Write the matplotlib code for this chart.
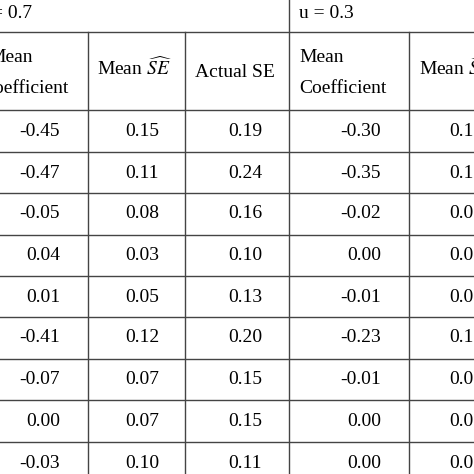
import matplotlib.pyplot as plt

plt.rcParams['font.family'] = ['Liberation Serif', 'DejaVu Serif']
plt.rcParams['mathtext.fontset'] = 'stix'

coef_07 = ["-0.45", "-0.47", "-0.05", "0.04", "0.01", "-0.41", "-0.07", "0.00", "-0.03"]
se_hat_07 = ["0.15", "0.11", "0.08", "0.03", "0.05", "0.12", "0.07", "0.07", "0.10"]
se_act_07 = ["0.19", "0.24", "0.16", "0.10", "0.13", "0.20", "0.15", "0.15", "0.11"]
coef_03 = ["-0.30", "-0.35", "-0.02", "0.00", "-0.01", "-0.23", "-0.01", "0.00", "0.00"]
se_hat_03 = ["0.13", "0.15", "0.02", "0.00", "0.01", "0.12", "0.01", "0.01", "0.00"]

W = 474
fig = plt.figure(figsize=(4.74, 4.74), dpi=100)
ax = fig.add_axes([0, 0, 1, 1])
ax.set_xlim(0, W)
ax.set_ylim(W, 0)
ax.axis("off")

lc = "#444444"
lw = 1.0
row_lines = [32, 110, 152, 193, 235, 276, 317, 359, 400, 442]
for y in row_lines:
    ax.plot([0, W], [y, y], color=lc, lw=lw)
ax.plot([289, 289], [0, W], color=lc, lw=lw)
for x in [88, 185, 409]:
    ax.plot([x, x], [32, W], color=lc, lw=lw)

fs = 14
ax.text(-8, 13, "= 0.7", fontsize=fs, va="center", ha="left")
ax.text(299, 13, "u = 0.3", fontsize=fs, va="center", ha="left")
ax.text(-12, 57, "Mean", fontsize=fs, va="center", ha="left")
ax.text(-19, 88, "Coefficient", fontsize=fs, va="center", ha="left")
ax.text(97, 68, r"Mean $\widehat{SE}$", fontsize=fs, va="center", ha="left")
ax.text(195, 72, "Actual SE", fontsize=fs, va="center", ha="left")
ax.text(299, 57, "Mean", fontsize=fs, va="center", ha="left")
ax.text(299, 88, "Coefficient", fontsize=fs, va="center", ha="left")
ax.text(419, 68, r"Mean $\widehat{SE}$", fontsize=fs, va="center", ha="left")

for i in range(len(coef_07)):
    y = row_lines[i + 1] + 21
    ax.text(60, y, coef_07[i], fontsize=fs, va="center", ha="right")
    ax.text(142, y, se_hat_07[i], fontsize=fs, va="center", ha="center")
    ax.text(245, y, se_act_07[i], fontsize=fs, va="center", ha="center")
    ax.text(381, y, coef_03[i], fontsize=fs, va="center", ha="right")
    ax.text(449, y, se_hat_03[i], fontsize=fs, va="center", ha="left")

fig.savefig("out.png", dpi=100)
